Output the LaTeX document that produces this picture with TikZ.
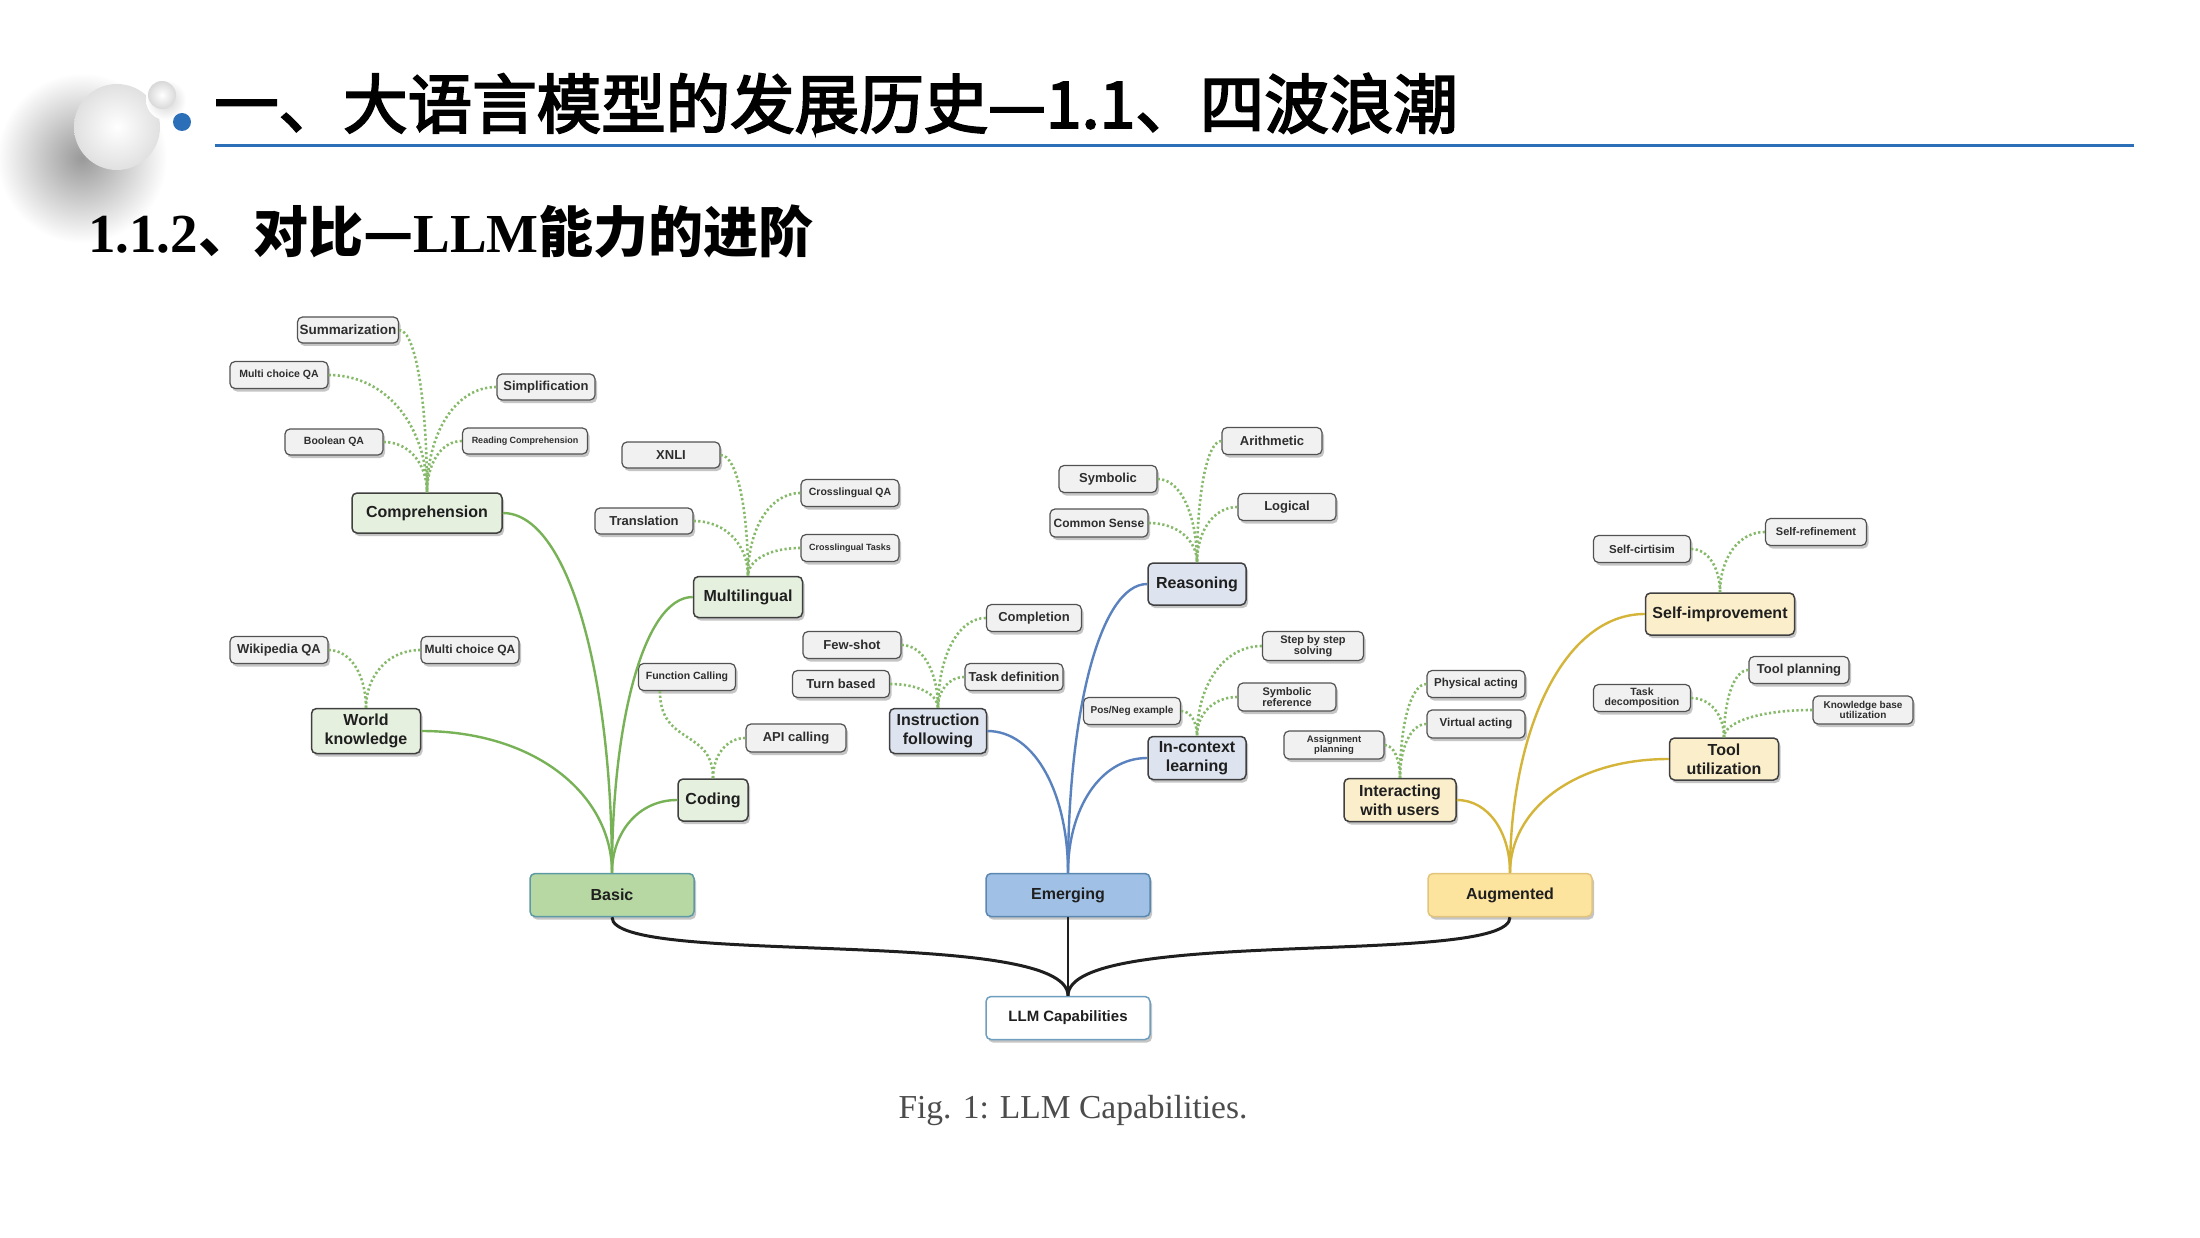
\documentclass[tikz,border=0pt]{standalone}
\usepackage{fontspec}
\setmainfont{Liberation Sans}
\newfontfamily\cjk{Noto Sans CJK SC}
\newfontfamily\cjkt[FakeBold=3]{Noto Sans CJK SC}
\newfontfamily\serifb{Liberation Serif}
\usetikzlibrary{shadows,calc}
\definecolor{leafc}{HTML}{F1F1F1}
\definecolor{gmid}{HTML}{E6F0DE}
\definecolor{bmid}{HTML}{DDE3EF}
\definecolor{ymid}{HTML}{FBEFCB}
\definecolor{gcat}{HTML}{B7D8A3}
\definecolor{gcatb}{HTML}{5E9AA3}
\definecolor{bcat}{HTML}{A0C1E5}
\definecolor{bcatb}{HTML}{5A88B0}
\definecolor{ycat}{HTML}{FDE49E}
\definecolor{ycatb}{HTML}{E2C47A}
\definecolor{llmb}{HTML}{6F9FBF}
\definecolor{gline}{HTML}{78B257}
\definecolor{bline}{HTML}{5A82BE}
\definecolor{yline}{HTML}{D5B43A}
\definecolor{dotc}{HTML}{86B96A}
\definecolor{titleblue}{HTML}{2B6FB8}
\newcommand\lf[1]{\bfseries\fontsize{#1}{#1}\selectfont}
\newcommand\lfb[2]{\bfseries\fontsize{#1}{#2}\selectfont}
\newcommand\linkc[3][dotg]{\draw[#1] (#2) .. controls ($(#2)!0.6!(#2 -| #3)$) and ($(#3)!0.55!(#3 |- #2)$) .. (#3);}
\tikzset{
  box/.style={rounded corners=5pt, align=center, inner xsep=1pt, inner ysep=1pt,
    drop shadow={shadow xshift=2pt, shadow yshift=-3pt, fill=black!45, opacity=0.5}},
  leaf/.style={box, line width=1.2pt, draw=black!68, fill=leafc, text=black!82},
  midg/.style={box, line width=1.5pt, draw=black!75, fill=gmid, text=black!88, font=\lf{16}},
  midb/.style={box, line width=1.5pt, draw=black!75, fill=bmid, text=black!88, font=\lf{16}},
  midy/.style={box, line width=1.5pt, draw=black!75, fill=ymid, text=black!88, font=\lf{16}},
  cat/.style={box, line width=1.5pt, text=black!88, font=\lf{16}, minimum width=164pt, minimum height=43pt},
  dotg/.style={draw=dotc, line width=2.6pt, dash pattern=on 2.2pt off 2.4pt},
  gsol/.style={draw=gline, line width=2.4pt},
  bsol/.style={draw=bline, line width=2.4pt},
  ysol/.style={draw=yline, line width=2.4pt},
  blk/.style={draw=black!88, line width=3pt},
}
\begin{document}
\begin{tikzpicture}[x=1pt,y=-1pt]
\useasboundingbox (0,0) rectangle (2200,1238);
\fill[white] (0,0) rectangle (2200,1238);
% decoration
\shade[inner color=black!40, outer color=white] (82,158) circle (85);
\shade[inner color=white, outer color=black!12] (117,127) circle (43);
\shade[inner color=black!18, outer color=white] (166,100) circle (20);
\shade[inner color=white, outer color=black!15] (162,95) circle (14);
\fill[titleblue] (182,122) circle (9);
\draw[titleblue, line width=3pt] (215,146) -- (2134,146);
\node[anchor=base west, inner sep=0] (title) at (214,128) {\cjkt\fontsize{64.5}{64.5}\selectfont 一、大语言模型的发展历史—1.1、四波浪潮};
\node[anchor=base west, inner sep=0] (subtitle) at (88,253) {\fontsize{55}{55}\selectfont{\serifb\bfseries 1.1.2}{\cjk\bfseries 、对比—}{\serifb\bfseries LLM}{\cjk\bfseries 能力的进阶}};
% categories
\node[cat, fill=gcat, draw=gcatb] (basic) at (612,895) {Basic};
\node[cat, fill=bcat, draw=bcatb] (emerg) at (1068,895) {Emerging};
\node[cat, fill=ycat, draw=ycatb] (augm) at (1510,895) {Augmented};
\node[cat, fill=white, draw=llmb, font=\lf{15}] (llm) at (1068,1018) {LLM Capabilities};
% basic mids
\node[midg, minimum width=150pt, minimum height=40pt] (comp) at (427,513) {Comprehension};
\node[midg, minimum width=109pt, minimum height=41pt] (multi) at (748,597) {Multilingual};
\node[midg, minimum width=109pt, minimum height=45pt, font=\lfb{16}{19}] (world) at (366,731) {World\\knowledge};
\node[midg, minimum width=70pt, minimum height=42pt] (coding) at (713,800) {Coding};
% basic leaves
\node[leaf, minimum width=101pt, minimum height=26pt, font=\lf{13.5}] (summ) at (348,330) {Summarization};
\node[leaf, minimum width=98pt, minimum height=27pt, font=\lf{10.5}] (mcqa) at (279,375) {Multi choice QA};
\node[leaf, minimum width=98pt, minimum height=26pt, font=\lf{13}] (simp) at (546,387) {Simplification};
\node[leaf, minimum width=98pt, minimum height=26pt, font=\lf{10.5}] (bool) at (334,442) {Boolean QA};
\node[leaf, minimum width=125pt, minimum height=26pt, font=\lf{9}] (read) at (525,441) {Reading Comprehension};
\node[leaf, minimum width=98pt, minimum height=26pt, font=\lf{13}] (xnli) at (671,455) {XNLI};
\node[leaf, minimum width=98pt, minimum height=27pt, font=\lf{10.5}] (cqa) at (850,493) {Crosslingual QA};
\node[leaf, minimum width=98pt, minimum height=26pt, font=\lf{13}] (trans) at (644,521) {Translation};
\node[leaf, minimum width=98pt, minimum height=27pt, font=\lf{9}] (ctask) at (850,548) {Crosslingual Tasks};
\node[leaf, minimum width=98pt, minimum height=27pt, font=\lf{13}] (wiki) at (279,650) {Wikipedia QA};
\node[leaf, minimum width=98pt, minimum height=27pt, font=\lf{12}] (mcqa2) at (470,650) {Multi choice QA};
\node[leaf, minimum width=97pt, minimum height=27pt, font=\lf{10.5}] (func) at (687,677) {Function Calling};
\node[leaf, minimum width=100pt, minimum height=28pt, font=\lf{13}] (api) at (796,738) {API calling};
% emerging mids
\node[midb, minimum width=97pt, minimum height=45pt, font=\lfb{16}{19}] (instr) at (938,731) {Instruction\\following};
\node[midb, minimum width=98pt, minimum height=42pt] (reason) at (1197,584) {Reasoning};
\node[midb, minimum width=98pt, minimum height=43pt, font=\lfb{16}{19}] (incon) at (1197,758) {In-context\\learning};
% emerging leaves
\node[leaf, minimum width=98pt, minimum height=27pt, font=\lf{13}] (few) at (852,645) {Few-shot};
\node[leaf, minimum width=97pt, minimum height=27pt, font=\lf{13}] (turn) at (841,684) {Turn based};
\node[leaf, minimum width=95pt, minimum height=27pt, font=\lf{13}] (compl) at (1034,618) {Completion};
\node[leaf, minimum width=98pt, minimum height=27pt, font=\lf{13}] (taskd) at (1014,677) {Task definition};
\node[leaf, minimum width=98pt, minimum height=27pt, font=\lf{13}] (symb) at (1108,479) {Symbolic};
\node[leaf, minimum width=100pt, minimum height=27pt, font=\lf{13}] (arith) at (1272,441) {Arithmetic};
\node[leaf, minimum width=98pt, minimum height=27pt, font=\lf{13}] (logic) at (1287,507) {Logical};
\node[leaf, minimum width=98pt, minimum height=28pt, font=\lf{12}] (csense) at (1099,523) {Common Sense};
\node[leaf, minimum width=101pt, minimum height=29pt, font=\lf{11}] (step) at (1313,646) {Step by step\\solving};
\node[leaf, minimum width=98pt, minimum height=28pt, font=\lf{11}] (symref) at (1287,697) {Symbolic\\reference};
\node[leaf, minimum width=97pt, minimum height=27pt, font=\lf{10}] (posneg) at (1132,711) {Pos/Neg example};
\node[leaf, minimum width=100pt, minimum height=28pt, font=\lf{9.5}] (assign) at (1334,745) {Assignment\\planning};
% augmented mids
\node[midy, minimum width=112pt, minimum height=43pt, font=\lfb{16}{19}] (inter) at (1400,800) {Interacting\\with users};
\node[midy, minimum width=149pt, minimum height=42pt] (selfimp) at (1720,614) {Self-improvement};
\node[midy, minimum width=109pt, minimum height=42pt, font=\lfb{16}{19}] (toolu) at (1724,759) {Tool\\utilization};
% augmented leaves
\node[leaf, minimum width=98pt, minimum height=27pt, font=\lf{11.5}] (phys) at (1476,684) {Physical acting};
\node[leaf, minimum width=98pt, minimum height=28pt, font=\lf{11.5}] (virt) at (1476,724) {Virtual acting};
\node[leaf, minimum width=97pt, minimum height=27pt, font=\lf{11.5}] (selfc) at (1642,549) {Self-cirtisim};
\node[leaf, minimum width=101pt, minimum height=27pt, font=\lf{11}] (selfr) at (1816,532) {Self-refinement};
\node[leaf, minimum width=100pt, minimum height=27pt, font=\lf{13}] (toolp) at (1799,670) {Tool planning};
\node[leaf, minimum width=97pt, minimum height=27pt, font=\lf{10.5}] (taskdec) at (1642,698) {Task\\decomposition};
\node[leaf, minimum width=100pt, minimum height=28pt, font=\lf{10}] (kb) at (1863,710) {Knowledge base\\utilization};
% caption
\node[anchor=base, inner sep=0, text=black!70, font=\serifb\fontsize{33.5}{33.5}\selectfont] (cap) at (1073,1118) {Fig. 1: LLM Capabilities.};
% solid connectors
\linkc[gsol]{comp.east}{basic.north}
\linkc[gsol]{multi.west}{basic.north}
\linkc[gsol]{world.east}{basic.north}
\linkc[gsol]{coding.west}{basic.north}
\linkc[bsol]{instr.east}{emerg.north}
\linkc[bsol]{reason.west}{emerg.north}
\linkc[bsol]{incon.west}{emerg.north}
\linkc[ysol]{inter.east}{augm.north}
\linkc[ysol]{selfimp.west}{augm.north}
\linkc[ysol]{toolu.west}{augm.north}
% dotted connectors
\linkc{summ.east}{comp.north}
\linkc{mcqa.east}{comp.north}
\linkc{bool.east}{comp.north}
\linkc{simp.west}{comp.north}
\linkc{read.west}{comp.north}
\linkc{xnli.east}{multi.north}
\linkc{trans.east}{multi.north}
\linkc{cqa.west}{multi.north}
\linkc{ctask.west}{multi.north}
\linkc{wiki.east}{world.north}
\linkc{mcqa2.west}{world.north}
\coordinate (fs) at ($(func.south west)+(22,0)$);
\draw[dotg] (fs) .. controls +(0,55) and +(0,-50) .. (coding.north);
\linkc{api.west}{coding.north}
\linkc{few.east}{instr.north}
\linkc{turn.east}{instr.north}
\linkc{compl.west}{instr.north}
\linkc{taskd.west}{instr.north}
\linkc{symb.east}{reason.north}
\linkc{csense.east}{reason.north}
\linkc{arith.west}{reason.north}
\linkc{logic.west}{reason.north}
\linkc{step.west}{incon.north}
\linkc{symref.west}{incon.north}
\linkc{posneg.east}{incon.north}
\linkc{assign.east}{inter.north}
\linkc{phys.west}{inter.north}
\linkc{virt.west}{inter.north}
\linkc{selfc.east}{selfimp.north}
\linkc{selfr.west}{selfimp.north}
\linkc{taskdec.east}{toolu.north}
\linkc{toolp.west}{toolu.north}
\linkc{kb.west}{toolu.north}
% black connectors
\draw[blk] (basic.south) .. controls +(0,50) and +(0,-70) .. (llm.north);
\draw[blk] (augm.south) .. controls +(0,50) and +(0,-70) .. (llm.north);
\draw[draw=black!88, line width=1.8pt] (emerg.south) -- (llm.north);
\end{tikzpicture}
\end{document}
